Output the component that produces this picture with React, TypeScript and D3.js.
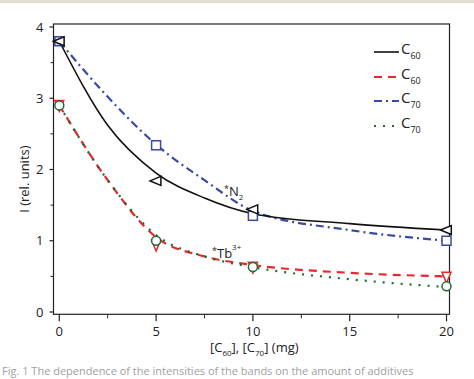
import React from "react";
import * as d3 from "d3";

const W = 474;
const H = 379;

// Marker data
const xMarks = [0, 5, 10, 20];
const c60Black = [3.8, 1.84, 1.44, 1.15];
const c70Blue = [3.8, 2.34, 1.35, 1.0];
const c60Red = [2.9, 0.94, 0.63, 0.49];
const c70Green = [2.9, 1.0, 0.63, 0.36];

// Fitted-curve values
const xFit = [0, 2.5, 5, 7.5, 10, 15, 20];
const fitBlack = [3.8, 2.62, 1.95, 1.6, 1.38, 1.24, 1.15];
const fitBlue = [3.8, 3.02, 2.35, 1.85, 1.42, 1.15, 1.0];
const fitRed = [2.9, 1.85, 1.05, 0.78, 0.66, 0.55, 0.5];
const fitGreen = [2.9, 1.85, 1.08, 0.78, 0.63, 0.46, 0.35];

const xTicks = [0, 5, 10, 15, 20];
const yTicks = [0, 1, 2, 3, 4];

const BLACK = "#111";
const RED = "#e8282c";
const BLUE = "#3b4aa0";
const GREEN = "#1f6a32";

export default function App() {
  const x = d3.scaleLinear().domain([0, 20]).range([59.3, 446.5]);
  const y = d3.scaleLinear().domain([0, 4]).range([312, 27]);
  const left = 53.5, right = 449.5, top = 24, bottom = 314.3;

  const line = (vals: number[]) =>
    d3
      .line<number>()
      .x((_, i) => x(xFit[i]))
      .y((v) => y(v))
      .curve(d3.curveMonotoneX)(vals) as string;

  const minorX = d3.range(0, 20.01, 2.5).filter((v) => v % 5 !== 0);
  const minorY = d3.range(0, 4.01, 0.5).filter((v) => v % 1 !== 0);

  const tri = (cx: number, cy: number, s: number, dir: "left" | "down") => {
    if (dir === "left")
      return `M${cx - s},${cy} L${cx + s * 0.8},${cy - s * 0.75} L${cx + s * 0.8},${cy + s * 0.75} Z`;
    return `M${cx},${cy + s} L${cx - s * 0.75},${cy - s * 0.8} L${cx + s * 0.75},${cy - s * 0.8} Z`;
  };

  const font = "'Open Sans', 'DejaVu Sans', sans-serif";

  const legend = [
    { color: BLACK, dash: "none", w: 1.6, sub: "60" },
    { color: RED, dash: "8,6", w: 2.2, sub: "60" },
    { color: BLUE, dash: "8,4,2,4", w: 2.2, sub: "70" },
    { color: GREEN, dash: "2,7", w: 2.2, sub: "70" },
  ];
  const legendY = [52, 77, 101, 126];

  return (
    <svg
      width={W}
      height={H}
      style={{ position: "absolute", left: 0, top: 0, background: "#fff" }}
      fontFamily={font}
    >
      <rect x={0} y={0} width={W} height={3} fill="#e2ddcf" />

      {/* frame */}
      <rect x={left} y={top} width={right - left} height={bottom - top} fill="none" stroke="#222" strokeWidth={1.2} />

      {/* y ticks */}
      {yTicks.map((t) => (
        <g key={"y" + t}>
          <line x1={left - 4} x2={left} y1={y(t)} y2={y(t)} stroke="#222" strokeWidth={1.2} />
          <text x={left - 10} y={y(t) + 4.5} fontSize={13} textAnchor="end" fill="#222">
            {t}
          </text>
        </g>
      ))}
      {minorY.map((t) => (
        <line key={"my" + t} x1={left - 3} x2={left} y1={y(t)} y2={y(t)} stroke="#222" strokeWidth={1} />
      ))}

      {/* x ticks */}
      {xTicks.map((t) => (
        <g key={"x" + t}>
          <line x1={x(t)} x2={x(t)} y1={bottom} y2={bottom + 7} stroke="#222" strokeWidth={1.2} />
          <text x={x(t)} y={bottom + 22} fontSize={13} textAnchor="middle" fill="#222">
            {t}
          </text>
        </g>
      ))}
      {minorX.map((t) => (
        <line key={"mx" + t} x1={x(t)} x2={x(t)} y1={bottom} y2={bottom + 4} stroke="#222" strokeWidth={1} />
      ))}

      {/* axis labels */}
      <text
        transform={`translate(29,${(top + bottom) / 2 + 10}) rotate(-90)`}
        fontSize={13}
        textAnchor="middle"
        fill="#222"
      >
        I (rel. units)
      </text>
      <text x={210} y={352} fontSize={13} fill="#222">
        [C<tspan fontSize={8} dy={4}>60</tspan>
        <tspan dy={-4}>], [C</tspan>
        <tspan fontSize={8} dy={4}>70</tspan>
        <tspan dy={-4}>] (mg)</tspan>
      </text>

      {/* curves */}
      <path d={line(fitBlue)} fill="none" stroke={BLUE} strokeWidth={2.2} strokeDasharray="8,4,2,4" />
      <path d={line(fitBlack)} fill="none" stroke={BLACK} strokeWidth={1.6} />
      <path d={line(fitRed)} fill="none" stroke={RED} strokeWidth={2.2} strokeDasharray="8,6" />
      <path d={line(fitGreen)} fill="none" stroke={GREEN} strokeWidth={2.2} strokeDasharray="2,7" />

      {/* markers */}
      {xMarks.map((xv, i) => (
        <g key={"m" + i} fill="none" strokeWidth={1.5}>
          <rect x={x(xv) - 4.5} y={y(c70Blue[i]) - 4.5} width={9} height={9} stroke={BLUE} fill={i === 0 ? "#dfe3f5" : "#fff"} />
          <path d={tri(x(xv), y(c60Black[i]), 6, "left")} stroke={BLACK} fill="#fff" />
          <path d={tri(x(xv), y(c60Red[i]), 6, "down")} stroke={RED} fill="#fff" />
          <circle cx={x(xv)} cy={y(c70Green[i])} r={4.5} stroke={GREEN} fill="#fff" />
        </g>
      ))}

      {/* annotations */}
      <text x={224} y={196} fontSize={13} fill="#222">
        <tspan fontSize={9} dy={-4}>*</tspan>
        <tspan dy={4}>N</tspan>
        <tspan fontSize={8} dy={4}>2</tspan>
      </text>
      <text x={212} y={258} fontSize={13} fill="#222">
        <tspan fontSize={9} dy={-4}>*</tspan>
        <tspan dy={4}>Tb</tspan>
        <tspan fontSize={8} dy={-8}>3+</tspan>
      </text>

      {/* legend */}
      {legend.map((l, i) => (
        <g key={"l" + i}>
          <line x1={374} x2={399} y1={legendY[i]} y2={legendY[i]} stroke={l.color} strokeWidth={l.w} strokeDasharray={l.dash} />
          <text x={401} y={legendY[i] + 2} fontSize={15} fill="#222">
            C<tspan fontSize={9} dy={5}>{l.sub}</tspan>
          </text>
        </g>
      ))}

      {/* faint caption */}
      <text x={2} y={375} fontSize={11} fill="#a0a0a0">
        Fig. 1  The dependence of the intensities of the bands on the amount of additives
      </text>
    </svg>
  );
}
